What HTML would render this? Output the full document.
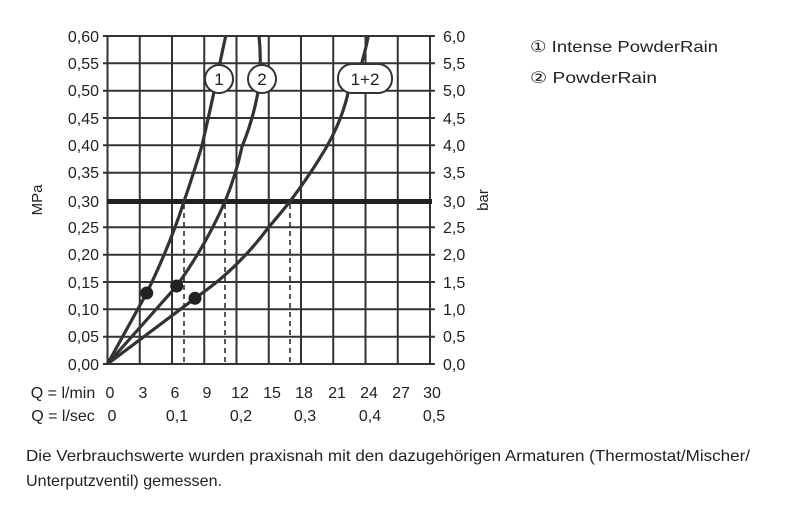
<!DOCTYPE html><html><head><style>body{margin:0;background:#fff}svg{display:block}text{font-family:"Liberation Sans",sans-serif;fill:#222}</style></head><body>
<svg width="800" height="510" viewBox="0 0 800 510">
<g stroke="#333" stroke-width="2">
<line x1="107.5" y1="36" x2="107.5" y2="364"/><line x1="139.75" y1="36" x2="139.75" y2="364"/><line x1="172" y1="36" x2="172" y2="364"/><line x1="204.25" y1="36" x2="204.25" y2="364"/><line x1="236.5" y1="36" x2="236.5" y2="364"/><line x1="268.75" y1="36" x2="268.75" y2="364"/><line x1="301" y1="36" x2="301" y2="364"/><line x1="333.25" y1="36" x2="333.25" y2="364"/><line x1="365.5" y1="36" x2="365.5" y2="364"/><line x1="397.75" y1="36" x2="397.75" y2="364"/><line x1="430" y1="36" x2="430" y2="364"/>
</g>
<g stroke="#333" stroke-width="2">
<line x1="103" y1="36" x2="435" y2="36"/><line x1="103" y1="63.3" x2="435" y2="63.3"/><line x1="103" y1="90.7" x2="435" y2="90.7"/><line x1="103" y1="118" x2="435" y2="118"/><line x1="103" y1="145.3" x2="435" y2="145.3"/><line x1="103" y1="172.7" x2="435" y2="172.7"/><line x1="103" y1="227.3" x2="435" y2="227.3"/><line x1="103" y1="254.7" x2="435" y2="254.7"/><line x1="103" y1="282" x2="435" y2="282"/><line x1="103" y1="309.3" x2="435" y2="309.3"/><line x1="103" y1="336.7" x2="435" y2="336.7"/><line x1="103" y1="364" x2="435" y2="364"/>
</g>
<line x1="107" y1="201.5" x2="432" y2="201.5" stroke="#222" stroke-width="5"/>
<g stroke="#222" stroke-width="1.5" stroke-dasharray="5,4"><line x1="184" y1="204" x2="184" y2="364"/><line x1="225" y1="204" x2="225" y2="364"/><line x1="290" y1="204" x2="290" y2="364"/></g>
<g fill="none" stroke="#333" stroke-width="3.2">
<path d="M107.5 364 L146.7 293 Q170 245 184 201.5 Q194 172 201.7 146.7 Q209 115 214 92 Q220 62 225.7 36"/>
<path d="M107.5 364 L176.7 286 Q206 245 225 201.5 Q236 175 242 146.7 Q253 120 258 92 Q262 63 259 36"/>
<path d="M107.5 364 L195 298.3 Q215 284 223 276.7 Q248 255 268 228 Q280 214 290 201.5 Q312 172 326.7 146.7 Q342 120 348.3 92 Q356 68 361.7 63.3 Q366 48 368.3 36"/>
</g>
<g fill="#222"><circle cx="146.7" cy="293" r="6.5"/><circle cx="176.7" cy="286" r="6.5"/><circle cx="195" cy="298.3" r="6.5"/></g>
<g fill="#fff" stroke="#333" stroke-width="2"><ellipse cx="219" cy="79" rx="14" ry="14"/><ellipse cx="262" cy="79" rx="14" ry="14"/><rect x="338" y="64" width="54" height="29" rx="14"/></g>
<g font-size="17" text-anchor="middle"><text x="219" y="85">1</text><text x="262" y="85">2</text><text x="365" y="85">1+2</text></g>
<g font-size="16" text-anchor="end">
<text x="99" y="42">0,60</text><text x="99" y="69">0,55</text><text x="99" y="96">0,50</text><text x="99" y="124">0,45</text><text x="99" y="151">0,40</text><text x="99" y="178">0,35</text><text x="99" y="207">0,30</text><text x="99" y="233">0,25</text><text x="99" y="260">0,20</text><text x="99" y="288">0,15</text><text x="99" y="315">0,10</text><text x="99" y="342">0,05</text><text x="99" y="370">0,00</text></g>
<g font-size="16">
<text x="443" y="42">6,0</text><text x="443" y="69">5,5</text><text x="443" y="96">5,0</text><text x="443" y="124">4,5</text><text x="443" y="151">4,0</text><text x="443" y="178">3,5</text><text x="443" y="207">3,0</text><text x="443" y="233">2,5</text><text x="443" y="260">2,0</text><text x="443" y="288">1,5</text><text x="443" y="315">1,0</text><text x="443" y="342">0,5</text><text x="443" y="370">0,0</text></g>
<text font-size="15" transform="translate(42,200) rotate(-90)" text-anchor="middle">MPa</text>
<text font-size="15" transform="translate(488,200) rotate(-90)" text-anchor="middle">bar</text>
<g font-size="16" text-anchor="middle">
<text x="63" y="398">Q = l/min</text><text x="110" y="398">0</text><text x="143" y="398">3</text><text x="175" y="398">6</text><text x="207" y="398">9</text><text x="240" y="398">12</text><text x="272" y="398">15</text><text x="304" y="398">18</text><text x="337" y="398">21</text><text x="369" y="398">24</text><text x="401" y="398">27</text><text x="432" y="398">30</text>
<text x="63" y="421">Q = l/sec</text><text x="112" y="421">0</text><text x="177" y="421">0,1</text><text x="241" y="421">0,2</text><text x="305" y="421">0,3</text><text x="370" y="421">0,4</text><text x="434" y="421">0,5</text></g>
<g font-size="16"><text x="530" y="52" textLength="188" lengthAdjust="spacingAndGlyphs">① Intense PowderRain</text><text x="530" y="83" textLength="127" lengthAdjust="spacingAndGlyphs">② PowderRain</text></g>
<g font-size="16"><text x="26" y="461" textLength="724" lengthAdjust="spacingAndGlyphs">Die Verbrauchswerte wurden praxisnah mit den dazugehörigen Armaturen (Thermostat/Mischer/</text><text x="26" y="486" textLength="196" lengthAdjust="spacingAndGlyphs">Unterputzventil) gemessen.</text></g>
</svg></body></html>
